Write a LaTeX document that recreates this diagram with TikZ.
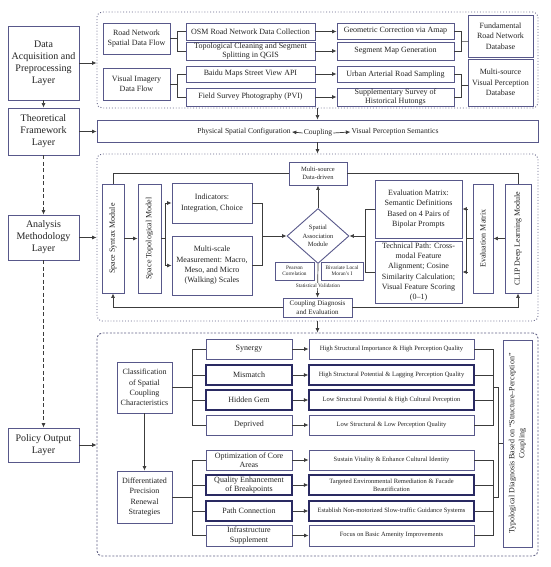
\documentclass[tikz,border=0pt]{standalone}
\usepackage{fontspec}
\setmainfont{Liberation Serif}
\usetikzlibrary{arrows.meta,calc,shapes.geometric}
\definecolor{dgBox}{RGB}{88,88,138}
\definecolor{dgDark}{RGB}{42,42,98}
\definecolor{dgLine}{RGB}{60,60,60}
\definecolor{dgFrame}{RGB}{100,100,135}
\definecolor{dgText}{RGB}{35,35,35}

\begin{document}
\begin{tikzpicture}[x=1pt, y=-1pt,
  box/.style={draw=dgBox, line width=0.9pt, fill=white, text=dgText, align=center, inner sep=0.5pt},
  boxD/.style={box, draw=dgDark, line width=1.3pt},
  sz/.style 2 args={minimum width=#1pt, minimum height=#2pt},
  grpframe/.style={draw=dgFrame, line width=0.9pt, dotted, rounded corners=5pt},
  link/.style={draw=dgLine, line width=0.7pt},
  arr/.style={link, -{Latex[length=4.5pt, width=4pt]}},
  darr/.style={arr, dash pattern=on 4pt off 2.5pt},
  fL/.style={font=\fontsize{10}{12}\selectfont},
  fM/.style={font=\fontsize{8}{10.3}\selectfont},
  fMt/.style={font=\fontsize{8}{9.5}\selectfont},
  fP/.style={font=\fontsize{7.6}{9}\selectfont, text=dgText, inner sep=1pt},
  fC/.style={font=\fontsize{7}{9}\selectfont},
  fS/.style={font=\fontsize{6.5}{8.5}\selectfont},
  fD/.style={font=\fontsize{6.5}{8.3}\selectfont},
  fT/.style={font=\fontsize{5.3}{6.3}\selectfont}]
  \useasboundingbox (0,0) rectangle (550,567);

  % Layer column
  \node[box, fL, sz={71}{74}] (dataL) at (43.5,63) {Data\\Acquisition and\\Preprocessing\\Layer};
  \node[box, fL, sz={71}{47}] (theoL) at (43.5,131.5) {Theoretical\\Framework\\Layer};
  \node[box, fL, sz={71}{45}] (methL) at (43.5,237.5) {Analysis\\Methodology\\Layer};
  \node[box, fL, sz={71}{34}] (polL) at (43.5,445) {Policy Output\\Layer};
  \draw[darr] (dataL) -- (theoL);
  \draw[darr] (theoL) -- (methL);
  \draw[darr] (methL) -- (polL);

  % Group frames
  \node[grpframe, sz={441}{96}] (acqF) at (317.5,60) {};
  \node[grpframe, sz={441}{167}] (anaF) at (317.5,237.5) {};
  \node[grpframe, dotted=false, dash pattern=on 2pt off 1.6pt, sz={441}{223}] (polF) at (317.5,444.5) {};

  % Data acquisition
  \node[box, fM, sz={67}{31}] (roadF) at (136.5,38.5) {Road Network\\Spatial Data Flow};
  \node[box, fM, sz={67}{32}] (visF) at (136.5,84) {Visual Imagery\\Data Flow};
  \node[box, fM, sz={129}{17}] (osm) at (250.5,31.5) {OSM Road Network Data Collection};
  \node[box, fMt, sz={129}{18}] (qgis) at (250.5,51) {Topological Cleaning and Segment\\Splitting in QGIS};
  \node[box, fM, sz={129}{16}] (baidu) at (250.5,74) {Baidu Maps Street View API};
  \node[box, fM, sz={129}{18}] (pvi) at (250.5,97) {Field Survey Photography (PVI)};
  \node[box, fM, sz={117}{16}] (amap) at (395.5,31) {Geometric Correction via Amap};
  \node[box, fM, sz={117}{18}] (segMap) at (395.5,51) {Segment Map Generation};
  \node[box, fM, sz={117}{16}] (sample) at (395.5,74.5) {Urban Arterial Road Sampling};
  \node[box, fMt, sz={117}{18}] (hutong) at (395.5,97) {Supplementary Survey of\\Historical Hutongs};
  \node[box, fM, sz={65}{42}] (roadDB) at (500.5,36) {Fundamental\\Road Network\\Database};
  \node[box, fM, sz={65}{47}] (visDB) at (500.5,82.5) {Multi-source\\Visual Perception\\Database};

  \draw[link] (roadF.east) -- ++(7,0) coordinate (roadJ);
  \draw[link] (osm.west) -| (roadJ) |- (qgis.west);
  \draw[link] (visF.east) -- ++(7,0) coordinate (visJ);
  \draw[link] (baidu.west) -| (visJ) |- (pvi.west);
  \draw[arr] (osm.east) -- (osm.east -| amap.west);
  \draw[arr] (qgis.east) -- (qgis.east -| segMap.west);
  \draw[arr] (baidu.east) -- (baidu.east -| sample.west);
  \draw[arr] (pvi.east) -- (pvi.east -| hutong.west);
  \draw[link] (amap.east) -- ++(7,0) |- (segMap.east);
  \draw[link] ($(amap.east)!0.5!(segMap.east)+(7,0)$) -- ++(7,0) coordinate (roadDBin) -- (roadDBin -| roadDB.west);
  \draw[link] (sample.east) -- ++(7,0) |- (hutong.east);
  \draw[link] ($(sample.east)!0.5!(hutong.east)+(7,0)$) -- ++(7,0) coordinate (visDBin) -- (visDBin -| visDB.west);
  \draw[arr] (dataL.east) -- (dataL.east -| acqF.west);

  % Theoretical framework
  \node[box, sz={441}{22}] (theory) at (317.5,131) {};
  \node[fP] (phys) at (244,132) {Physical Spatial Configuration};
  \node[fP] (coup) at (318,133) {Coupling};
  \node[fP] (visSem) at (395,132) {Visual Perception Semantics};
  \draw[arr] (coup.west) -- (phys.east);
  \draw[arr] (coup.east) -- (visSem.west);
  \draw[arr] (acqF.south) -- (theory.north);
  \draw[arr] (theoL.east) -- (theoL.east -| theory.west);
  \draw[arr] (theory.south) -- (anaF.north);

  % Analysis methodology
  \node[box, fM, rotate=90, sz={109}{22}] (syntax) at (113,238.5) {Space Syntax Module};
  \node[box, fM, rotate=90, sz={109}{23}] (topoM) at (149.5,238.5) {Space Topological Model};
  \node[box, fM, sz={80}{40}] (indic) at (212,203) {Indicators:\\Integration, Choice};
  \node[box, fM, sz={80}{59}] (scale) at (212,265.5) {Multi-scale\\Measurement: Macro,\\Meso, and Micro\\(Walking) Scales};
  \node[box, fS, sz={58}{23}] (multiSrc) at (318,173.5) {Multi-source\\Data-driven};
  \node[draw=dgBox, line width=0.9pt, fill=white, text=dgText, diamond, fS, align=center, inner sep=0pt, minimum width=62pt, minimum height=55pt] (assoc) at (318,236) {Spatial\\Association\\Module};
  \node[box, fM, sz={87}{58}] (evalB) at (418.5,209) {Evaluation Matrix:\\Semantic Definitions\\Based on 4 Pairs of\\Bipolar Prompts};
  \node[box, fM, sz={87}{62}] (techB) at (418.5,272) {Technical Path: Cross-\\modal Feature\\Alignment; Cosine\\Similarity Calculation;\\Visual Feature Scoring\\(0--1)};
  \node[box, fM, rotate=90, sz={109}{20}] (evalM) at (483,238.5) {Evaluation Matrix};
  \node[box, fM, rotate=90, sz={109}{26}] (clip) at (518,238.5) {CLIP Deep Learning Module};
  \node[box, fT, sz={39}{18}] (pearson) at (294.5,271) {Pearson\\Correlation};
  \node[box, fT, sz={42}{18}] (moran) at (342,271) {Bivariate Local\\Moran's I};
  \node[box, fC, sz={69}{19}] (coupDiag) at (317.5,307.5) {Coupling Diagnosis\\and Evaluation};

  \draw[arr] (methL.east) -- (methL.east -| anaF.west);
  \draw[arr] (syntax) -- (topoM);
  \draw[link] (topoM.south) -- ++(4,0) coordinate (topoJ);
  \draw[arr] (topoJ) |- (indic.west);
  \draw[arr] (topoJ) |- (scale.west);
  \draw[link] (indic.east) -- ++(10,0) coordinate (indJ) -- (indJ |- scale.east) -- (scale.east);
  \draw[arr] (indJ |- assoc.west) -- (assoc.west);
  \draw[link] (evalB.west) -- ++(-9,0) coordinate (evJ) -- (evJ |- techB.west) -- (techB.west);
  \draw[arr] (evJ |- assoc.east) -- (assoc.east);
  \draw[arr] (clip) -- (evalM);
  \draw[link] (evalM.north) -- ++(-6,0) coordinate (emJ);
  \draw[arr] (emJ) |- (evalB.east);
  \draw[arr] (emJ) |- (techB.east);
  \draw[arr] (assoc) -- (multiSrc);
  \draw[arr] (assoc.south) -- (coupDiag.north);
  \node[fT, text=dgText, fill=white, inner sep=0.3pt] (statV) at (318,285.5) {Statistical Validation};
  % feedback loops
  \draw[link] (syntax.east) -- (syntax.east |- multiSrc.west) -- (multiSrc.west);
  \draw[link] (multiSrc.east) -| (clip.east);
  \draw[arr] (coupDiag.west) -| (syntax.west);
  \draw[arr] (coupDiag.east) -| (clip.west);
  \draw[arr] (anaF.south) -- (polF.north);

  % Policy output
  \node[box, fM, sz={55}{51}] (classif) at (144.5,387.5) {Classification\\of Spatial\\Coupling\\Characteristics};
  \node[box, fM, sz={55}{52}] (strat) at (144.5,497) {Differentiated\\Precision\\Renewal\\Strategies};
  \draw[arr] (classif) -- (strat);
  \draw[arr] (polL.east) -- (polL.east -| polF.west);

  \node[box, fM, sz={86}{20}] (synergy) at (249,349) {Synergy};
  \node[boxD, fM, sz={86}{20}] (mismatch) at (249,375) {Mismatch};
  \node[boxD, fM, sz={86}{20}] (hidden) at (249,400) {Hidden Gem};
  \node[box, fM, sz={86}{20}] (deprived) at (249,425) {Deprived};
  \node[box, fD, sz={165}{20}] (synD) at (391.5,349) {High Structural Importance \& High Perception Quality};
  \node[boxD, fD, sz={165}{20}] (misD) at (391.5,375) {High Structural Potential \& Lagging Perception Quality};
  \node[boxD, fD, sz={165}{20}] (hidD) at (391.5,400) {Low Structural Potential \& High Cultural Perception};
  \node[box, fD, sz={165}{20}] (depD) at (391.5,425) {Low Structural \& Low Perception Quality};

  \node[box, fMt, sz={86}{20}] (core) at (249,460) {Optimization of Core\\Areas};
  \node[boxD, fMt, sz={86}{20}] (quality) at (249,485) {Quality Enhancement\\of Breakpoints};
  \node[boxD, fM, sz={86}{20}] (pathC) at (249,511) {Path Connection};
  \node[box, fMt, sz={86}{21}] (infra) at (249,535.5) {Infrastructure\\Supplement};
  \node[box, fD, sz={165}{20}] (coreD) at (391.5,460) {Sustain Vitality \& Enhance Cultural Identity};
  \node[boxD, fD, sz={165}{20}] (qualD) at (391.5,485) {Targeted Environmental Remediation \& Facade\\Beautification};
  \node[boxD, fD, sz={165}{20}] (pathD) at (391.5,511) {Establish Non-motorized Slow-traffic Guidance Systems};
  \node[box, fD, sz={165}{21}] (infraD) at (391.5,535.5) {Focus on Basic Amenity Improvements};

  \node[box, fM, rotate=90, sz={207}{29}, font=\fontsize{8}{10}\selectfont] (typo) at (517.5,443.5) {Typological Diagnosis Based on “Structure–Perception”\\Coupling};

  % forks
  \draw[link] (classif.east) -- ++(20,0) coordinate (clJ);
  \draw[link] (synergy.west) -| (clJ) |- (deprived.west);
  \draw[link] (clJ |- mismatch.west) -- (mismatch.west);
  \draw[link] (clJ |- hidden.west) -- (hidden.west);
  \draw[link] (strat.east) -- ++(20,0) coordinate (stJ);
  \draw[link] (core.west) -| (stJ) |- (infra.west);
  \draw[link] (stJ |- quality.west) -- (quality.west);
  \draw[link] (stJ |- pathC.west) -- (pathC.west);
  \draw[arr] (synergy) -- (synD);
  \draw[arr] (mismatch) -- (misD);
  \draw[arr] (hidden) -- (hidD);
  \draw[arr] (deprived) -- (depD);
  \draw[arr] (core) -- (coreD);
  \draw[arr] (quality) -- (qualD);
  \draw[arr] (pathC) -- (pathD);
  \draw[arr] (infra) -- (infraD);

  % right brackets
  \draw[link] (synD.east) -- ++(19,0) |- (depD.east);
  \draw[link] (misD.east) -- ++(19,0);
  \draw[link] (hidD.east) -- ++(19,0);
  \draw[link] (coreD.east) -- ++(19,0) |- (infraD.east);
  \draw[link] (qualD.east) -- ++(19,0);
  \draw[link] (pathD.east) -- ++(19,0);
  \coordinate (grpA) at ($(synD.east)!0.5!(depD.east)+(19,0)$);
  \coordinate (grpB) at ($(coreD.east)!0.5!(infraD.east)+(19,0)$);
  \draw[link] (grpA) -- ++(5,0) coordinate (outJ) -- (outJ |- grpB) -- (grpB);
  \draw[link] (outJ |- typo.north) -- (typo.north);
\end{tikzpicture}
\end{document}
